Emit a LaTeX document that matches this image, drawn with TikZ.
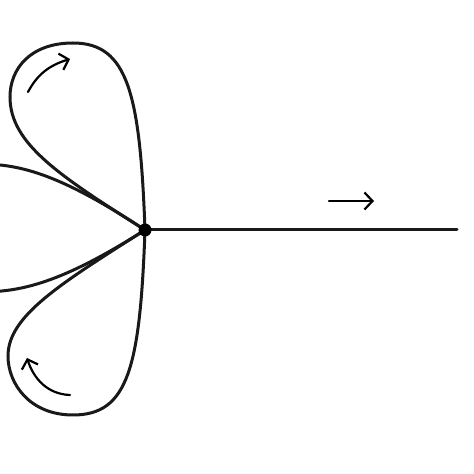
\documentclass[tikz,border=0pt]{standalone}
\usetikzlibrary{arrows.meta, positioning}
\begin{document}
\begin{tikzpicture}[x=1pt, y=1pt,
	petal/.style={line width=3pt, line cap=round, draw=black!90},
	spin/.style={line width=2.2pt, line cap=round, -{Straight Barb[length=8pt, width=17pt]}}]
\useasboundingbox (0,0) rectangle (474,474);
\clip (0,0) rectangle (474,474);
% centre and the ray
\coordinate (O) at (145,244);
\coordinate (E) at (457,244);
\draw[petal] (O) -- (E);
% upper, middle and lower loops
\draw[petal] (O) .. controls (140,380) and (128,431) .. (73,431)
	.. controls (30,431) and (10,405) .. (10,377)
	.. controls (10,330) and (60,298) .. (O);
\draw[petal] (O) .. controls (60,300) and (20,310) .. (-20,310)
	.. controls (-80,310) and (-80,182) .. (-20,182)
	.. controls (20,182) and (60,190) .. (O);
\draw[petal] (O) .. controls (140,106) and (128,59) .. (73,59)
	.. controls (30,59) and (8,90) .. (8,118)
	.. controls (8,158) and (60,190) .. (O);
\node[circle, fill=black, inner sep=0pt, minimum size=13pt] (dot) at (O) {};
% direction marks
\coordinate (a1) at (28,382);
\coordinate (b1) at (70,415);
\draw[spin] (a1) to[out=62, in=197] (b1);
\coordinate (a2) at (70,79);
\coordinate (b2) at (27,116);
\draw[spin] (a2) to[out=178, in=-72] (b2);
\coordinate (a3) at (329,273);
\coordinate (b3) at (374,273);
\draw[spin] (a3) -- (b3);
\end{tikzpicture}
\end{document}
